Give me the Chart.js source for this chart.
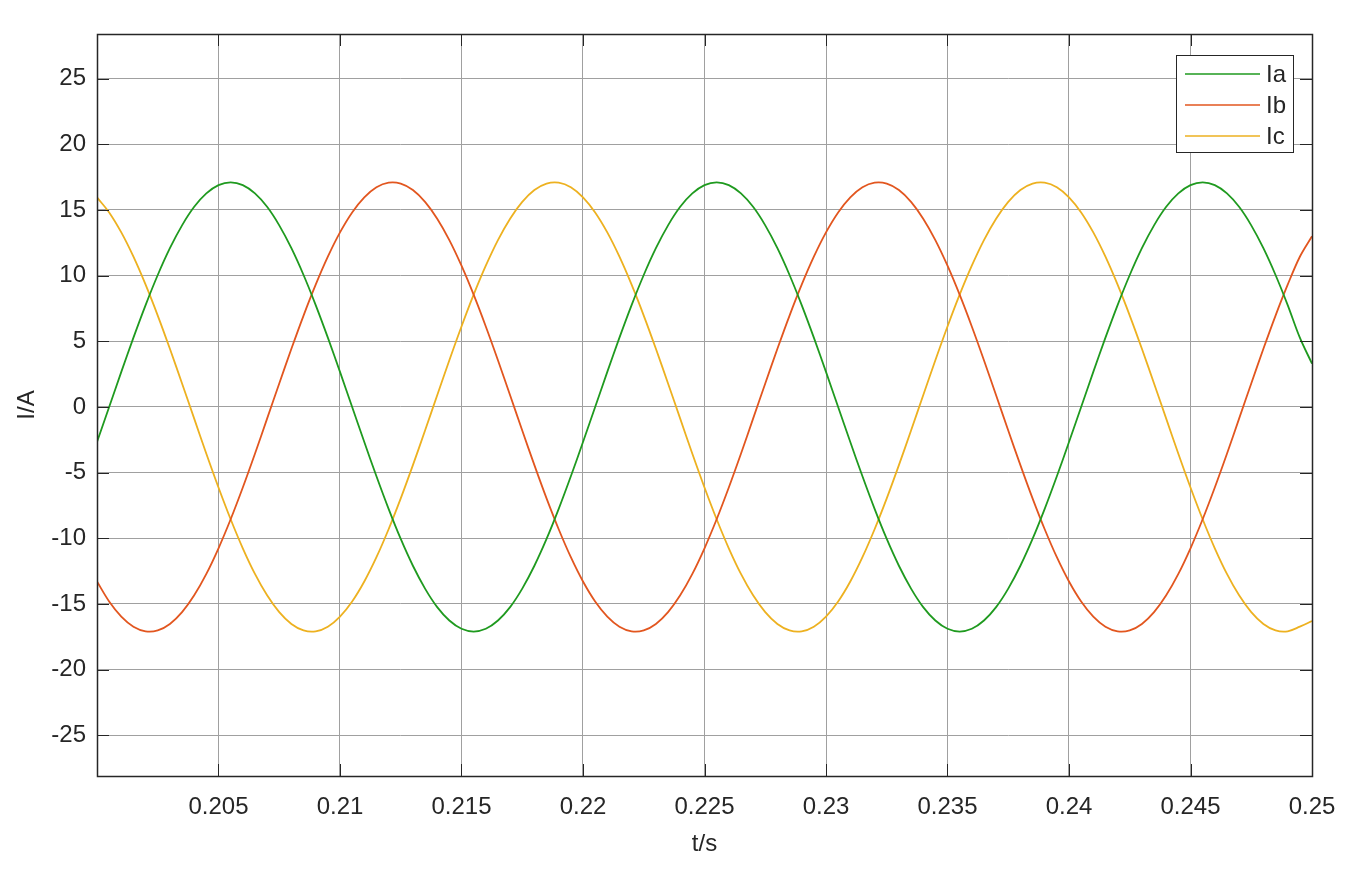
<!DOCTYPE html>
<html>
<head>
<meta charset="utf-8">
<script src="https://cdn.jsdelivr.net/npm/chart.js@4.4.1/dist/chart.umd.min.js"></script>
<style>
  html, body { margin: 0; padding: 0; background: #fff; }
  #wrap { width: 1350px; height: 869px; }
</style>
</head>
<body>
<div id="wrap"><canvas id="chart" width="1350" height="869"></canvas></div>
<script>
// time samples (s), read every 0.5 ms
const times = [
  0.2000, 0.2005, 0.2010, 0.2015, 0.2020, 0.2025, 0.2030, 0.2035, 0.2040, 0.2045,
  0.2050, 0.2055, 0.2060, 0.2065, 0.2070, 0.2075, 0.2080, 0.2085, 0.2090, 0.2095,
  0.2100, 0.2105, 0.2110, 0.2115, 0.2120, 0.2125, 0.2130, 0.2135, 0.2140, 0.2145,
  0.2150, 0.2155, 0.2160, 0.2165, 0.2170, 0.2175, 0.2180, 0.2185, 0.2190, 0.2195,
  0.2200, 0.2205, 0.2210, 0.2215, 0.2220, 0.2225, 0.2230, 0.2235, 0.2240, 0.2245,
  0.2250, 0.2255, 0.2260, 0.2265, 0.2270, 0.2275, 0.2280, 0.2285, 0.2290, 0.2295,
  0.2300, 0.2305, 0.2310, 0.2315, 0.2320, 0.2325, 0.2330, 0.2335, 0.2340, 0.2345,
  0.2350, 0.2355, 0.2360, 0.2365, 0.2370, 0.2375, 0.2380, 0.2385, 0.2390, 0.2395,
  0.2400, 0.2405, 0.2410, 0.2415, 0.2420, 0.2425, 0.2430, 0.2435, 0.2440, 0.2445,
  0.2450, 0.2455, 0.2460, 0.2465, 0.2470, 0.2475, 0.2480, 0.2485, 0.2490, 0.2495,
  0.2500
];

// phase currents (A)
const ia = [
  -2.67, 0, 2.67, 5.28, 7.76, 10.05, 12.09, 13.83, 15.24, 16.26,
  16.89, 17.10, 16.89, 16.26, 15.24, 13.83, 12.09, 10.05, 7.76, 5.28,
  2.67, 0, -2.67, -5.28, -7.76, -10.05, -12.09, -13.83, -15.24, -16.26,
  -16.89, -17.10, -16.89, -16.26, -15.24, -13.83, -12.09, -10.05, -7.76, -5.28,
  -2.67, 0, 2.67, 5.28, 7.76, 10.05, 12.09, 13.83, 15.24, 16.26,
  16.89, 17.10, 16.89, 16.26, 15.24, 13.83, 12.09, 10.05, 7.76, 5.28,
  2.67, 0, -2.67, -5.28, -7.76, -10.05, -12.09, -13.83, -15.24, -16.26,
  -16.89, -17.10, -16.89, -16.26, -15.24, -13.83, -12.09, -10.05, -7.76, -5.28,
  -2.67, 0, 2.67, 5.28, 7.76, 10.05, 12.09, 13.83, 15.24, 16.26,
  16.89, 17.10, 16.89, 16.26, 15.24, 13.83, 12.09, 10.05, 7.76, 5.28,
  3.30
];
const ib = [
  -13.29, -14.81, -15.96, -16.73, -17.08, -17.01, -16.52, -15.62, -14.34, -12.71,
  -10.76, -8.55, -6.13, -3.56, -0.89, 1.79, 4.43, 6.96, 9.31, 11.44,
  13.29, 14.81, 15.96, 16.73, 17.08, 17.01, 16.52, 15.62, 14.34, 12.71,
  10.76, 8.55, 6.13, 3.56, 0.89, -1.79, -4.43, -6.96, -9.31, -11.44,
  -13.29, -14.81, -15.96, -16.73, -17.08, -17.01, -16.52, -15.62, -14.34, -12.71,
  -10.76, -8.55, -6.13, -3.56, -0.89, 1.79, 4.43, 6.96, 9.31, 11.44,
  13.29, 14.81, 15.96, 16.73, 17.08, 17.01, 16.52, 15.62, 14.34, 12.71,
  10.76, 8.55, 6.13, 3.56, 0.89, -1.79, -4.43, -6.96, -9.31, -11.44,
  -13.29, -14.81, -15.96, -16.73, -17.08, -17.01, -16.52, -15.62, -14.34, -12.71,
  -10.76, -8.55, -6.13, -3.56, -0.89, 1.79, 4.43, 6.96, 9.31, 11.44,
  13.00
];
const ic = [
  15.96, 14.81, 13.29, 11.44, 9.31, 6.96, 4.43, 1.79, -0.89, -3.56,
  -6.13, -8.55, -10.76, -12.71, -14.34, -15.62, -16.52, -17.01, -17.08, -16.73,
  -15.96, -14.81, -13.29, -11.44, -9.31, -6.96, -4.43, -1.79, 0.89, 3.56,
  6.13, 8.55, 10.76, 12.71, 14.34, 15.62, 16.52, 17.01, 17.08, 16.73,
  15.96, 14.81, 13.29, 11.44, 9.31, 6.96, 4.43, 1.79, -0.89, -3.56,
  -6.13, -8.55, -10.76, -12.71, -14.34, -15.62, -16.52, -17.01, -17.08, -16.73,
  -15.96, -14.81, -13.29, -11.44, -9.31, -6.96, -4.43, -1.79, 0.89, 3.56,
  6.13, 8.55, 10.76, 12.71, 14.34, 15.62, 16.52, 17.01, 17.08, 16.73,
  15.96, 14.81, 13.29, 11.44, 9.31, 6.96, 4.43, 1.79, -0.89, -3.56,
  -6.13, -8.55, -10.76, -12.71, -14.34, -15.62, -16.52, -17.01, -17.08, -16.73,
  -16.30
];

const seriesNames = ['Ia', 'Ib', 'Ic'];
const seriesColors = ['#1f9a1f', '#e2561f', '#edb120'];
const xTicks = [0.2, 0.205, 0.21, 0.215, 0.22, 0.225, 0.23, 0.235, 0.24, 0.245, 0.25];
const yTicks = [-25, -20, -15, -10, -5, 0, 5, 10, 15, 20, 25];

const FONT = '"Liberation Sans", Arial, Helvetica, sans-serif';
const INK = '#262626';

const toPoints = arr => arr.map((v, i) => ({ x: times[i], y: v }));

// MATLAB-style box, inward ticks and legend
const matlabAxes = {
  id: 'matlabAxes',
  afterDraw(chart) {
    const { ctx, chartArea: a, scales: { x, y } } = chart;
    const tl = 12;
    ctx.save();
    ctx.strokeStyle = INK;
    ctx.lineWidth = 1;
    ctx.beginPath();
    xTicks.forEach(t => {
      const px = Math.round(x.getPixelForValue(t)) + 0.5;
      ctx.moveTo(px, a.bottom); ctx.lineTo(px, a.bottom - tl);
      ctx.moveTo(px, a.top); ctx.lineTo(px, a.top + tl);
    });
    yTicks.forEach(t => {
      const py = Math.round(y.getPixelForValue(t)) + 0.5;
      ctx.moveTo(a.left, py); ctx.lineTo(a.left + tl, py);
      ctx.moveTo(a.right, py); ctx.lineTo(a.right - tl, py);
    });
    ctx.stroke();
    ctx.lineWidth = 1.5;
    ctx.strokeRect(Math.round(a.left) + 0.5, Math.round(a.top) + 0.5,
      Math.round(a.right - a.left), Math.round(a.bottom - a.top));

    // legend
    const bx = 1176.5, by = 55.5, bw = 117, bh = 97;
    ctx.fillStyle = '#fff';
    ctx.fillRect(bx, by, bw, bh);
    ctx.lineWidth = 1;
    ctx.strokeRect(bx, by, bw, bh);
    ctx.font = '24px ' + FONT;
    ctx.textBaseline = 'middle';
    ctx.textAlign = 'left';
    chart.data.datasets.forEach((ds, i) => {
      const ry = 74 + i * 31;
      ctx.strokeStyle = ds.borderColor;
      ctx.lineWidth = 1.6;
      ctx.beginPath();
      ctx.moveTo(1185, ry); ctx.lineTo(1260, ry);
      ctx.stroke();
      ctx.fillStyle = INK;
      ctx.fillText(ds.label, 1266, ry + 1);
    });
    ctx.restore();
  }
};

new Chart(document.getElementById('chart').getContext('2d'), {
  type: 'line',
  data: {
    datasets: [ia, ib, ic].map((arr, i) => ({
      label: seriesNames[i],
      data: toPoints(arr),
      borderColor: seriesColors[i],
      borderWidth: 1.8,
      pointRadius: 0,
      tension: 0.35,
      fill: false
    }))
  },
  options: {
    responsive: false,
    animation: false,
    layout: { padding: { top: 34, right: 38, left: 0, bottom: 0 } },
    plugins: { legend: { display: false }, tooltip: { enabled: false } },
    scales: {
      x: {
        type: 'linear',
        min: 0.2,
        max: 0.25,
        afterBuildTicks: s => { s.ticks = xTicks.map(v => ({ value: v })); },
        afterFit: s => { s.height = 93; s.paddingLeft = 0; s.paddingRight = 0; },
        ticks: {
          padding: 17,
          maxRotation: 0,
          autoSkip: false,
          color: INK,
          font: { family: FONT, size: 24 },
          callback: v => (Math.abs(v - 0.2) < 1e-9 ? '' : String(Number(v.toFixed(3))))
        },
        grid: { color: '#a0a0a0', lineWidth: 1, drawTicks: false },
        border: { display: false },
        title: {
          display: true,
          text: 't/s',
          color: INK,
          font: { family: FONT, size: 24 },
          padding: { top: 0, bottom: 10 }
        }
      },
      y: {
        min: -28.1,
        max: 28.4,
        afterBuildTicks: s => { s.ticks = yTicks.map(v => ({ value: v })); },
        afterFit: s => { s.width = 97; s.paddingTop = 0; s.paddingBottom = 0; },
        ticks: {
          padding: 11,
          color: INK,
          font: { family: FONT, size: 24 },
          callback: v => String(v)
        },
        grid: { color: '#a0a0a0', lineWidth: 1, drawTicks: false },
        border: { display: false },
        title: {
          display: true,
          text: 'I/A',
          color: INK,
          font: { family: FONT, size: 24 },
          padding: { top: 13, bottom: 0 }
        }
      }
    }
  },
  plugins: [matlabAxes]
});
</script>
</body>
</html>
